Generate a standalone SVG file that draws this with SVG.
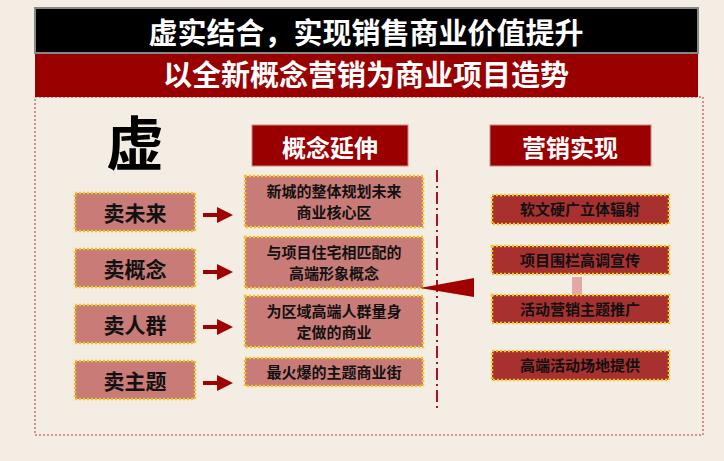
<svg xmlns="http://www.w3.org/2000/svg" width="724" height="461" viewBox="0 0 724 461">
<style>
text{font-family:"Noto Sans CJK SC","Liberation Sans",sans-serif;font-weight:bold;text-anchor:middle}
.pk{fill:#c97b78;stroke:#f7c41a;stroke-width:2.5;stroke-dasharray:2 2}
.rd{fill:#a8302f;stroke:#f7c41a;stroke-width:2.5;stroke-dasharray:2 2}
.hd{fill:#9b0000;stroke:#c98a80;stroke-width:1}
.t{fill:#111}
</style>
<defs><marker id="ah" markerWidth="4" markerHeight="4" refX="2" refY="2" orient="auto" markerUnits="strokeWidth"><path d="M0,0L4,2L0,4z" fill="#a00000"/></marker></defs>
<rect width="724" height="461" fill="#f3ede4"/>
<rect x="35" y="97" width="668" height="338" fill="none" stroke="#c03030" stroke-dasharray="2 2"/>
<g id="title"><rect x="35" y="8" width="663" height="45" fill="#000" stroke="#888" stroke-width="2"/><text x="366" y="44" font-size="29" fill="#fff">虚实结合，实现销售商业价值提升</text></g>
<g id="subtitle"><rect x="35" y="54" width="663" height="43" fill="#990000"/><text x="366" y="86" font-size="29" fill="#fff">以全新概念营销为商业项目造势</text></g>
<g id="xu"><text x="135" y="165" font-size="58" fill="#000">虚</text></g>
<g id="h1"><rect class="hd" x="252" y="125" width="156" height="41"/><text x="330" y="157" font-size="24" fill="#fff">概念延伸</text></g>
<g id="h2"><rect class="hd" x="490" y="125" width="161" height="41"/><text x="570" y="157" font-size="24" fill="#fff">营销实现</text></g>
<g id="l1"><rect class="pk" x="75" y="193" width="120" height="38"/><text class="t" x="135" y="221" font-size="21">卖未来</text></g>
<g id="l2"><rect class="pk" x="75" y="249" width="120" height="38"/><text class="t" x="135" y="277" font-size="21">卖概念</text></g>
<g id="l3"><rect class="pk" x="75" y="305" width="120" height="38"/><text class="t" x="135" y="333" font-size="21">卖人群</text></g>
<g id="l4"><rect class="pk" x="75" y="361" width="120" height="38"/><text class="t" x="135" y="389" font-size="21">卖主题</text></g>
<g id="m1"><rect class="pk" x="245" y="176" width="178" height="51"/><text class="t" x="334" y="197" font-size="15">新城的整体规划未来</text><text class="t" x="334" y="218" font-size="15">商业核心区</text></g>
<g id="m2"><rect class="pk" x="245" y="237" width="178" height="51"/><text class="t" x="334" y="258" font-size="15">与项目住宅相匹配的</text><text class="t" x="334" y="279" font-size="15">高端形象概念</text></g>
<g id="m3"><rect class="pk" x="245" y="296" width="178" height="51"/><text class="t" x="334" y="317" font-size="15">为区域高端人群量身</text><text class="t" x="334" y="338" font-size="15">定做的商业</text></g>
<g id="m4"><rect class="pk" x="245" y="358" width="178" height="28"/><text class="t" x="334" y="378" font-size="15">最火爆的主题商业街</text></g>
<g id="r1"><rect class="rd" x="492" y="195" width="177" height="29"/><text class="t" x="580" y="215" font-size="15">软文硬广立体辐射</text></g>
<g id="r2"><rect class="rd" x="492" y="246" width="177" height="28"/><text class="t" x="580" y="266" font-size="15">项目围栏高调宣传</text></g>
<rect x="572" y="277" width="10" height="20" fill="#d98a8a" opacity="0.7"/>
<g id="r3"><rect class="rd" x="492" y="295" width="177" height="28"/><text class="t" x="580" y="315" font-size="15">活动营销主题推广</text></g>
<g id="r4"><rect class="rd" x="492" y="351" width="177" height="29"/><text class="t" x="580" y="371" font-size="15">高端活动场地提供</text></g>
<g id="connectors">
<line x1="437" y1="170" x2="437" y2="410" stroke="#b01020" stroke-width="2" stroke-dasharray="12 4 2 4"/>
<g stroke="#a00000" stroke-width="4" marker-end="url(#ah)">
<line x1="203" y1="215" x2="225" y2="215"/><line x1="203" y1="272" x2="225" y2="272"/><line x1="203" y1="327" x2="225" y2="327"/><line x1="203" y1="383" x2="225" y2="383"/>
</g>
<path d="M420,288L474,278L474,297z" fill="#a00000"/>
</g>
</svg>
